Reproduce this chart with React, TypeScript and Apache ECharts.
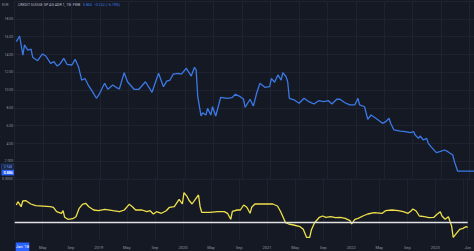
import React, { useEffect, useRef } from "react";
import * as echarts from "echarts";

// Price series (weeks since 2018-01-01, close in EUR)
const priceWeeks = [1, 3, 5, 6, 8, 10, 11, 14, 17, 19, 22, 24, 26, 28, 30, 32, 35, 37, 39, 41, 43, 45, 47, 50, 52, 55, 57, 60, 62, 64, 67, 69, 73, 76, 80, 84, 88, 91, 93, 95, 97, 100, 102, 105, 108, 110, 111, 112, 114, 115, 117, 118, 120, 121, 123, 126, 130, 133, 135, 138, 140, 141, 144, 145, 146, 148, 150, 153, 156, 157, 159, 161, 163, 164, 166, 167, 168, 171, 174, 177, 180, 183, 186, 189, 192, 194, 197, 199, 202, 205, 208, 210, 211, 214, 216, 218, 220, 223, 225, 227, 229, 230, 232, 236, 239, 242, 244, 245, 247, 248, 250, 252, 253, 255, 258, 260, 263, 265, 268, 269, 271, 281];
const priceValues = [15.44, 16.08, 13.94, 15.07, 14.5, 14.6, 13.7, 13.3, 14.06, 13.83, 13.0, 13.2, 12.7, 13.0, 13.57, 12.9, 12.82, 13.46, 12.63, 11.13, 11.3, 10.57, 10.0, 9.08, 9.64, 10.76, 10.09, 10.57, 10.31, 10.12, 11.96, 10.94, 10.09, 10.09, 10.94, 9.75, 11.89, 10.38, 11.0, 11.13, 11.8, 11.89, 11.8, 12.45, 11.58, 12.56, 12.26, 9.26, 7.09, 7.46, 7.2, 7.95, 7.2, 8.13, 7.09, 9.19, 9.08, 9.15, 9.53, 9.26, 8.97, 8.07, 8.97, 8.58, 8.21, 9.64, 10.76, 10.31, 10.38, 11.3, 10.88, 11.7, 11.13, 11.96, 11.5, 10.94, 9.08, 8.89, 8.52, 9.08, 8.7, 8.44, 8.81, 8.7, 8.81, 8.44, 8.97, 8.97, 8.58, 8.33, 8.33, 9.08, 8.33, 8.13, 6.72, 7.2, 6.94, 6.56, 6.27, 6.45, 6.83, 6.27, 5.52, 5.4, 5.33, 5.21, 5.33, 4.96, 4.58, 4.84, 4.39, 4.58, 4.02, 3.57, 2.97, 3.08, 3.27, 3.08, 2.71, 1.96, 0.886, 0.886];

// Lower indicator (weeks since 2018-01-01, value)
const indWeeks = [1, 2, 4, 5, 7, 10, 13, 22, 24, 26, 29, 30, 31, 33, 36, 38, 40, 42, 44, 46, 49, 52, 56, 61, 65, 68, 71, 73, 75, 79, 82, 84, 86, 88, 91, 94, 96, 99, 102, 104, 105, 107, 108, 110, 112, 114, 115, 116, 121, 126, 130, 132, 134, 135, 138, 140, 142, 144, 146, 147, 149, 154, 160, 163, 165, 168, 170, 173, 177, 179, 181, 183, 184, 186, 189, 191, 193, 196, 199, 202, 205, 208, 209, 211, 213, 216, 219, 223, 228, 230, 234, 238, 241, 244, 246, 247, 249, 251, 254, 257, 260, 262, 264, 265, 267, 269, 271, 272, 274, 276, 278, 280, 281];
const indValues = [1.73, 2.06, 1.56, 2.13, 2.16, 1.83, 1.66, 1.56, 1.5, 1.06, 0.9, 1.16, 0.5, 0.3, 0.36, 0.56, 1.4, 1.8, 1.9, 1.56, 1.23, 1.16, 1.3, 1.16, 1.06, 1.23, 1.8, 1.56, 1.23, 1.23, 1.06, 1.16, 0.83, 1.06, 0.9, 1.16, 1.5, 1.56, 2.3, 1.83, 2.96, 2.56, 2.23, 1.83, 2.3, 2.73, 1.56, 1.0, 1.0, 1.06, 1.06, 0.9, 0.3, 1.1, 1.23, 1.23, 1.73, 1.5, 0.9, 1.5, 1.83, 1.83, 1.83, 1.63, 1.06, -0.04, -0.17, -0.27, -0.44, -0.7, -1.5, -1.5, -0.77, -0.04, 0.5, 0.63, 0.5, 0.56, 0.46, 0.5, 0.4, 0.16, -0.17, 0.3, 0.4, 0.63, 0.83, 0.96, 0.9, 1.16, 1.23, 1.16, 1.06, 0.9, 1.16, 1.33, 1.13, 0.63, 0.56, 0.46, 0.5, 0.8, 1.06, 0.63, 0.3, 0.56, -0.37, -1.5, -1.1, -0.7, -0.6, -0.44, -0.5];

const priceTicks = [2, 4, 6, 8, 10, 12, 14, 16, 18];
const monthNames = ["Jan", "Feb", "Mar", "Apr", "May", "Jun", "Jul", "Aug", "Sep", "Oct", "Nov", "Dec"];

const TITLE = "CREDIT SUISSE GP AG ADR 1, 1W, FWB";
const TITLE_VALUES = "0.865  \u22120.062 (\u22126.70%)";

const toMonths = (w: number) => (w * 7) / 30.4375;

export default function App() {
  const ref = useRef<HTMLDivElement>(null);
  useEffect(() => {
    if (!ref.current) return;
    const chart = echarts.init(ref.current, null, { renderer: "svg" });
    const bg = "#151924";
    const gridCol = "#1f2331";
    const txt = "#8f939d";
    const font = "Roboto, 'Noto Sans', sans-serif";
    const priceData = priceWeeks.map((w, i) => [toMonths(w), priceValues[i]]);
    const indData = indWeeks.map((w, i) => [toMonths(w), indValues[i]]);
    const xMax = 64.62;
    const xLabel = (v: number) => {
      const m = Math.round(v);
      if (m === 0) return "";
      if (m % 12 === 0) return String(2018 + m / 12);
      return monthNames[m % 12];
    };
    chart.setOption({
      animation: false,
      backgroundColor: bg,
      grid: [
        { left: 14.7, right: 0, top: 1.1, height: 178 },
        { left: 14.7, right: 0, top: 178, height: 62 },
      ],
      xAxis: [
        {
          type: "value", gridIndex: 0, min: 0, max: xMax, interval: 4,
          axisLine: { show: false }, axisTick: { show: false }, axisLabel: { show: false },
          splitLine: { show: true, lineStyle: { color: gridCol, width: 1 } },
        },
        {
          type: "value", gridIndex: 1, min: 0, max: xMax, interval: 4,
          axisLine: { show: true, lineStyle: { color: "#252936" } }, axisTick: { show: false },
          axisLabel: { show: true, color: txt, fontSize: 4, fontFamily: font, margin: 5, formatter: xLabel, showMaxLabel: true },
          splitLine: { show: true, lineStyle: { color: gridCol, width: 1 } },
        },
      ],
      yAxis: [
        {
          type: "value", gridIndex: 0, min: 0, max: 20, interval: 2, position: "left",
          axisLine: { show: false }, axisTick: { show: false },
          axisLabel: {
            show: true, color: txt, fontSize: 3.5, fontFamily: font, margin: 1.4, align: "right",
            formatter: (v: number) => (priceTicks.includes(v) ? (v === 2 ? "2.000" : v.toFixed(2)) : ""),
          },
          splitLine: { show: true, lineStyle: { color: gridCol, width: 1 } },
        },
        {
          type: "value", gridIndex: 1, min: -1.77, max: 4.43,
          axisLine: { show: false }, axisTick: { show: false }, axisLabel: { show: false },
          splitLine: { show: false },
        },
      ],
      series: [
        {
          type: "line", xAxisIndex: 0, yAxisIndex: 0, data: priceData, showSymbol: false,
          lineStyle: { color: "#3b79e6", width: 1.3 }, silent: true,
        },
        {
          type: "line", xAxisIndex: 1, yAxisIndex: 1, data: indData, showSymbol: false,
          lineStyle: { color: "#efe04c", width: 1.3 }, silent: true,
          markLine: {
            silent: true, symbol: "none", label: { show: false },
            lineStyle: { color: "#e2e2e2", width: 1.3, type: "solid" },
            data: [{ yAxis: 0 }],
          },
        },
      ],
      graphic: [
        { type: "text", left: 2, top: 3, style: { text: "EUR", fill: txt, fontSize: 3.5, fontFamily: font } },
        { type: "text", left: 18, top: 3, style: { text: TITLE, fill: "#b8bbc4", fontSize: 3.6, fontFamily: font } },
        { type: "text", left: 83, top: 3, style: { text: TITLE_VALUES, fill: "#3b79e6", fontSize: 3.6, fontFamily: font } },
        { type: "rect", shape: { x: 1.5, y: 164.2, width: 13, height: 5 }, style: { fill: "#17233f", stroke: "#2d5fc2", lineWidth: 0.5 } },
        { type: "text", x: 8, y: 166.7, style: { text: "0.948", fill: "#6f97e8", fontSize: 3.3, fontFamily: font, align: "center", verticalAlign: "middle" } },
        { type: "rect", shape: { x: 1.5, y: 170, width: 13.5, height: 5.4 }, style: { fill: "#2962ff" } },
        { type: "text", x: 8.2, y: 172.7, style: { text: "0.886", fill: "#ffffff", fontSize: 3.5, fontWeight: "bold", fontFamily: font, align: "center", verticalAlign: "middle" } },
        { type: "text", x: 2, y: 178.5, style: { text: "0.0000", fill: txt, fontSize: 3.5, fontFamily: font, verticalAlign: "middle" } },
        { type: "rect", shape: { x: 15.7, y: 242.5, width: 13.6, height: 8.5 }, style: { fill: "#2962ff" } },
        { type: "text", x: 22.5, y: 246.8, style: { text: "Jan '18", fill: "#ffffff", fontSize: 4, fontFamily: font, align: "center", verticalAlign: "middle" } },
      ],
    });
    return () => chart.dispose();
  }, []);
  return (
    <div style={{ position: "fixed", left: 0, top: 0, width: 474, height: 251, background: "#151924" }}>
      <div ref={ref} style={{ width: 474, height: 251 }} />
    </div>
  );
}
